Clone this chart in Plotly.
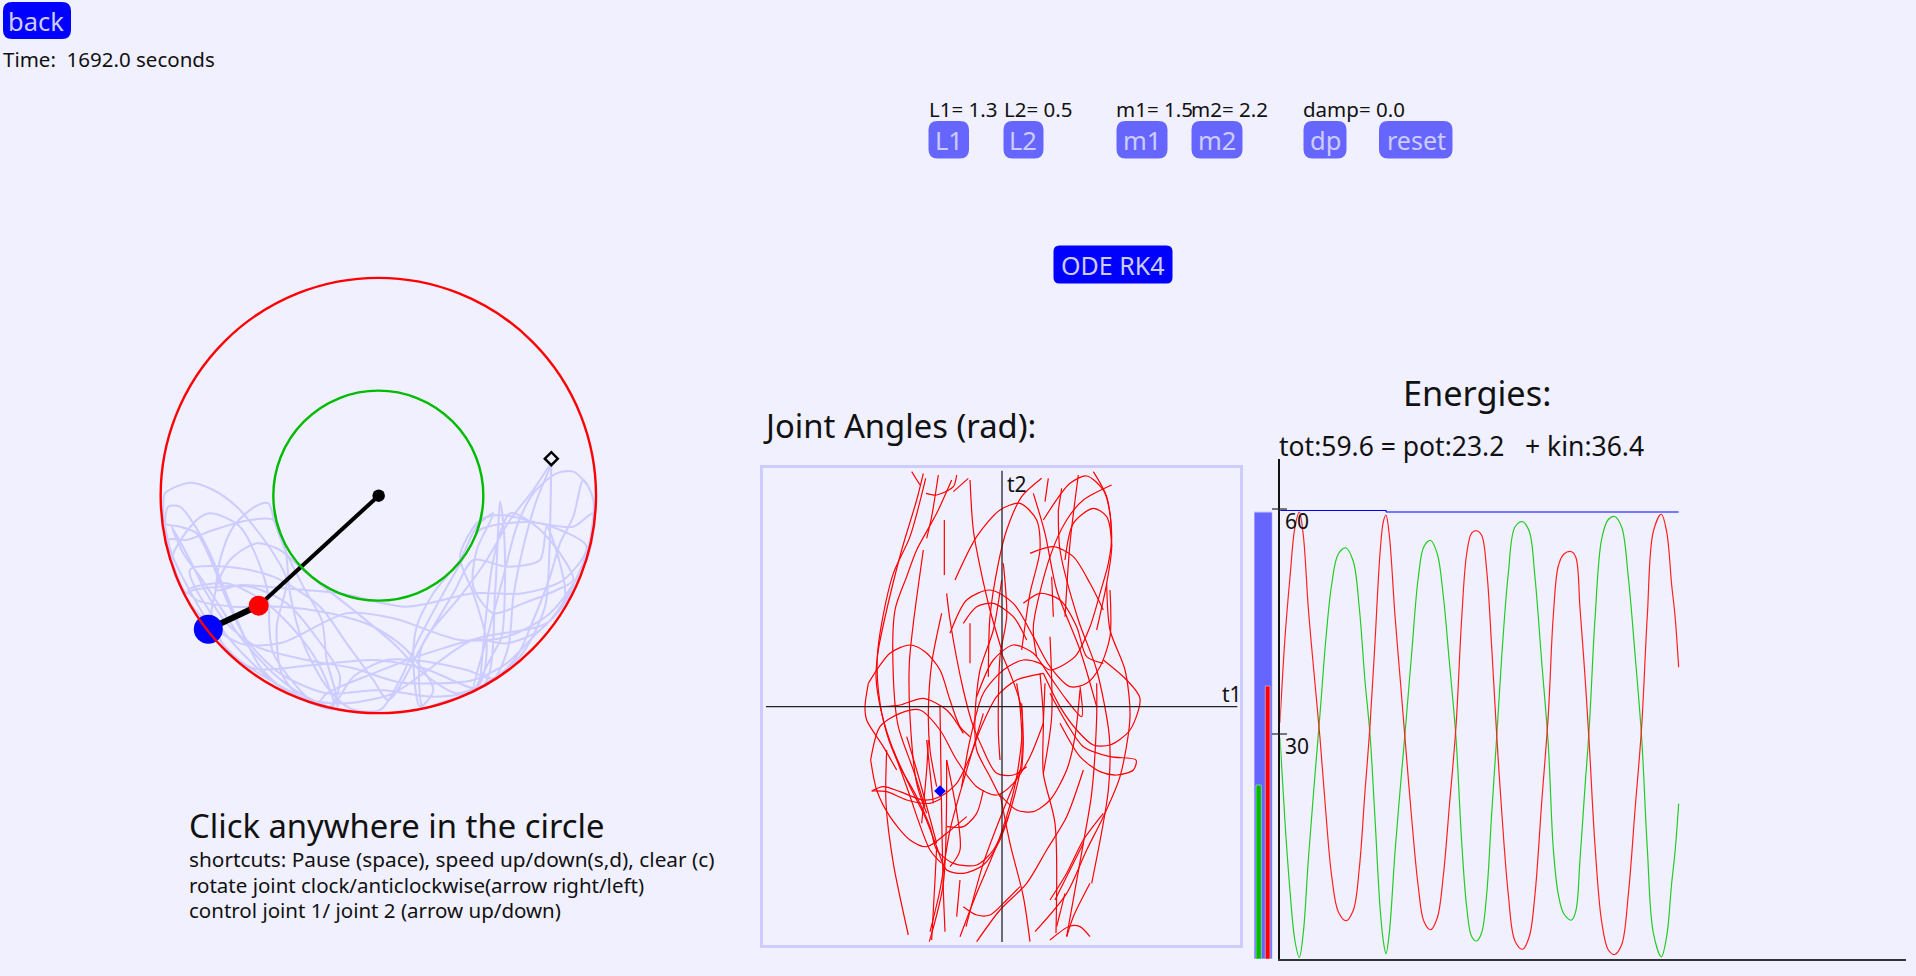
import plotly.graph_objects as go

BG = '#f0f0ff'
FONT = 'Noto Sans'
W, H = 1916, 976

# Pendulum, read in screen units (1 unit = 1/3 px), y pointing down
pivot = (716, 707)
joint = (356, 1037)
tip = (205, 1108)
click = (1234, 596)
outer_r = 653
inner_r = 315

trace_path = [
    (1234, 610), (1232, 720), (1228, 880), (1215, 1040), (1140, 1190), (1020, 1280), (1000, 1285),
    (850, 1225), (700, 1200), (520, 1215), (340, 1225), (255, 1160), (165, 1020), (95, 880),
    (75, 790), (85, 740), (120, 740), (160, 790), (210, 880), (250, 980), (300, 1100), (360, 1220),
    (450, 1300), (590, 1345), (560, 1200), (545, 1080), (490, 980), (440, 880), (405, 790),
    (385, 730), (345, 740), (280, 800), (240, 900), (225, 1000), (215, 1060), (260, 1170),
    (390, 1260), (510, 1320), (620, 1330), (760, 1300), (850, 1240), (1000, 1140), (1100, 1150),
    (1200, 1110), (1275, 1020), (1340, 880), (1365, 750), (1345, 680), (1300, 635), (1250, 640),
    (1180, 700), (1130, 800), (1090, 950), (1050, 1100), (1000, 1290), (1060, 1180), (1085, 1130),
    (1095, 960), (1090, 790), (1080, 725), (1075, 800), (1065, 1000), (1035, 1270), (895, 1330),
    (850, 1345), (840, 1180), (860, 1130), (960, 1010), (1040, 900), (1110, 780), (1180, 690),
    (1234, 610), (1190, 720), (1150, 860), (1120, 1010), (1105, 1160), (1060, 1260), (975, 1300),
    (880, 1310), (720, 1290), (560, 1300), (420, 1240), (320, 1140), (260, 1020), (225, 930),
    (170, 820), (120, 800), (75, 790), (70, 730), (75, 700), (150, 668), (220, 690), (290, 740),
    (350, 810), (400, 880), (440, 960), (410, 1100), (425, 1240), (480, 1310), (570, 1340),
    (600, 1250), (520, 1120), (440, 1030), (330, 980), (160, 990), (140, 1000), (85, 840),
    (140, 840), (220, 810), (330, 780), (400, 780), (435, 860), (450, 1000), (490, 1150),
    (560, 1280), (630, 1345), (720, 1350), (780, 1260), (830, 1150), (910, 1000), (990, 860),
    (1020, 810), (1100, 790), (1200, 790), (1340, 860), (1270, 960), (1150, 1000), (1000, 1000),
    (800, 1040), (600, 1000), (430, 985), (300, 975), (230, 990), (270, 900), (350, 850), (420, 870),
    (500, 940), (640, 1050), (760, 1150), (850, 1240), (950, 1300), (1020, 1270), (1040, 1150),
    (1000, 1000), (960, 890), (1020, 780), (1090, 765), (1200, 790), (1300, 800), (1360, 760),
    (1340, 900), (1230, 1060), (1100, 1130), (960, 1140), (760, 1075), (620, 1060), (420, 1150),
    (300, 1150), (165, 1050), (95, 900), (170, 780), (210, 760), (300, 800), (380, 980), (400, 1180),
    (530, 1330), (560, 1300), (700, 1240), (860, 1180), (1030, 1130), (1220, 1090), (1275, 1010),
    (1220, 800), (1200, 900), (1100, 920), (1000, 900), (940, 1000), (850, 1150), (745, 1320),
    (700, 1260), (620, 1150), (540, 1040), (400, 950), (260, 920), (150, 930), (255, 1120),
    (420, 1280), (570, 1340), (640, 1250), (740, 1200), (860, 1205), (980, 1230), (1060, 1255),
    (1130, 1190), (1180, 1080), (1230, 950), (1260, 850), (1300, 770), (1330, 660), (1360, 720),
    (1350, 840), (1320, 950), (1260, 1050), (1180, 1130), (1100, 1210), (1000, 1260), (900, 1270),
    (770, 1265), (640, 1225), (500, 1200), (350, 1160), (260, 1090), (200, 1000), (150, 900),
    (95, 800), (130, 880), (180, 950), (240, 1040), (300, 1130), (400, 1240), (480, 1300),
    (580, 1340), (545, 1230), (480, 1130), (380, 1030), (260, 970), (145, 990), (170, 1020),
    (280, 1040), (420, 1040), (570, 1060), (700, 1100), (800, 1170), (880, 1290), (840, 1340),
    (820, 1210), (830, 1100), (880, 1000), (960, 900), (1010, 800), (1060, 760), (1010, 870),
    (1000, 980), (1060, 1060), (1150, 1030), (1250, 990), (1300, 960), (1260, 880), (1190, 800),
    (1110, 760), (1060, 900), (1040, 1050), (1020, 1270),
]

# Joint angles trace, pieces break where an angle wraps round the frame
joint_segments = [
    [(520, 70), (500, 150), (455, 300), (410, 480), (385, 600), (378, 680), (395, 790), (430, 900), (480, 1010), (525, 1100), (560, 1190), (590, 1260), (640, 1270), (700, 1245), (745, 1180), (790, 1050), (815, 930), (810, 770), (800, 700)],
    [(527, 85), (480, 260), (430, 370), (395, 520), (382, 620), (385, 720), (410, 850), (450, 950), (500, 1040), (540, 1130), (560, 1200), (610, 1240), (680, 1245), (730, 1200), (775, 1100)],
    [(485, 65), (510, 105)],
    [(565, 75), (545, 200), (530, 265)],
    [(605, 90), (560, 190), (500, 300), (470, 380), (435, 480), (430, 680), (445, 830), (490, 960), (525, 1070)],
    [(620, 75), (610, 110), (560, 135), (528, 130)],
    [(655, 85), (610, 125)],
    [(660, 90), (670, 240), (690, 350), (720, 480), (755, 600)],
    [(583, 210), (583, 375)],
    [(520, 300), (490, 520), (478, 640), (480, 800), (500, 1000), (530, 1090)],
    [(615, 390), (680, 260), (750, 180), (810, 160), (860, 210), (870, 300), (840, 430), (815, 600)],
    [(1030, 65), (1070, 140), (1085, 260), (1075, 340), (1050, 430), (1020, 530), (975, 620), (900, 660), (870, 640), (820, 630), (760, 660), (700, 730), (660, 870), (635, 1010)],
    [(1085, 105), (1000, 150), (950, 210), (900, 320), (850, 530), (860, 620)],
    [(880, 210), (960, 100), (1010, 78), (1060, 120), (1080, 190), (1085, 290)],
    [(945, 330), (970, 220), (1030, 175), (1070, 200), (1085, 290), (1070, 400), (1040, 540)],
    [(600, 550), (650, 450), (720, 420), (790, 460), (850, 560), (900, 650), (960, 710), (1010, 700), (1050, 650), (1080, 560), (1080, 420)],
    [(640, 520), (680, 470), (730, 460), (790, 500), (830, 570)],
    [(820, 460), (870, 430), (930, 450), (980, 530), (1010, 620), (1060, 640)],
    [(840, 310), (910, 290), (970, 320), (1020, 400), (1060, 480)],
    [(355, 700), (420, 610), (480, 585), (525, 605), (570, 660), (600, 750), (630, 830), (660, 860)],
    [(355, 700), (345, 770), (350, 810), (400, 890), (440, 960)],
    [(400, 770), (450, 765), (520, 745), (590, 780), (640, 850)],
    [(362, 930), (390, 830), (450, 790), (510, 780), (570, 840), (620, 930), (680, 1010), (740, 1035), (790, 1000), (840, 920), (880, 820)],
    [(880, 670), (930, 770), (980, 840), (1030, 885), (1080, 885), (1140, 840), (1170, 745), (1130, 690), (1060, 630)],
    [(900, 730), (950, 820), (1000, 890), (1080, 920), (1158, 930), (1150, 960), (1100, 975), (1050, 965), (990, 920), (930, 820)],
    [(362, 930), (380, 1020), (420, 1100), (480, 1170), (530, 1190), (590, 1150), (650, 1100)],
    [(365, 1023), (400, 1010), (450, 1025), (520, 1050), (570, 1040), (620, 1000), (660, 920), (690, 840), (740, 740), (800, 690), (880, 670)],
    [(365, 1023), (410, 1025), (470, 1050), (540, 1060), (575, 1045)],
    [(590, 1130), (640, 1130), (680, 1090), (700, 1020)],
    [(700, 900), (740, 970), (790, 975), (830, 950)],
    [(755, 1040), (800, 1080), (850, 1085), (900, 1050), (950, 960), (975, 860), (990, 720)],
    [(1020, 1460), (990, 1430), (960, 1428), (900, 1470)],
    [(680, 1475), (750, 1380), (830, 1300), (890, 1200), (950, 1100), (1000, 960)],
    [(640, 1370), (680, 1395), (720, 1395), (770, 1350), (810, 1310)],
    [(410, 900), (408, 1060), (430, 1240), (475, 1455)],
    [(540, 1445), (570, 1320), (600, 1140), (650, 960), (700, 790)],
    [(538, 1475), (580, 1300), (590, 930)],
    [(585, 1445), (580, 1320), (575, 1100), (570, 770)],
    [(630, 1460), (680, 1330), (750, 1160), (800, 980), (815, 780), (750, 600)],
    [(648, 1430), (700, 1240), (760, 1080), (810, 960)],
    [(840, 1475), (820, 1340), (780, 1180), (750, 1030)],
    [(855, 1445), (950, 1330), (1010, 1200), (1060, 1100), (1110, 980), (1140, 800), (1125, 660), (1080, 540), (1070, 400)],
    [(918, 1450), (915, 1120), (880, 970), (880, 800), (870, 670)],
    [(950, 1460), (1000, 1180), (1025, 1030), (1040, 800), (1040, 700)],
    [(1025, 1300), (1075, 1020), (1078, 860), (1040, 660), (985, 510), (930, 300), (925, 180)],
    [(920, 1430), (945, 1330)],
    [(985, 75), (960, 280), (945, 500)],
    [(895, 85), (885, 155)],
    [(875, 85), (815, 140), (770, 240), (745, 340), (720, 500), (715, 680)],
    [(850, 130), (885, 250), (920, 420), (990, 600), (1040, 770)],
    [(905, 380), (910, 500)],
    [(900, 560), (905, 800), (880, 970)],
    [(590, 430), (600, 510), (640, 720), (670, 830), (700, 900)],
    [(575, 490), (545, 640), (535, 790), (540, 900), (560, 1010)],
    [(660, 520), (660, 640)],
    [(755, 390), (730, 540), (690, 660), (675, 800), (680, 900), (720, 980), (750, 1040)],
    [(760, 340), (770, 500), (750, 620), (745, 840), (750, 930)],
    [(680, 740), (730, 630), (790, 585), (850, 610), (900, 680), (950, 750), (995, 800), (990, 710)],
    [(815, 760), (820, 880), (815, 960)],
    [(880, 820), (885, 700)],
    [(515, 1120), (530, 960), (535, 870)],
    [(590, 930), (630, 1200), (600, 1250)],
    [(560, 1190), (555, 1290), (545, 1470)],
    [(630, 1290), (620, 1400)],
    [(1020, 1300), (970, 1400), (950, 1460)],
    [(1000, 1180), (915, 1350)],
    [(1060, 1090), (1000, 1170), (950, 1270), (900, 1350)],
    [(925, 180), (935, 115)],
    [(430, 900), (470, 1010), (540, 1200), (575, 1240)],
    [(470, 860), (500, 960), (560, 1180)],
    [(530, 870), (550, 1060)],
]
joint_now = (570, 1023)
t_origin = (756, 770)

# Energies over time
energy_t = [2, 17, 32, 47, 60, 72, 87, 104, 122, 140, 157, 177, 200, 222, 240, 257, 272, 287, 302, 312, 320, 330, 347, 362,
            377, 397, 417, 434, 454, 474, 492, 510, 530, 547, 562, 577, 592, 607, 622, 637, 652, 667, 687, 707, 730, 750,
            767, 787, 807, 822, 837, 854, 877, 890, 902, 917, 930, 947, 967, 987, 1006, 1027, 1047, 1067, 1087, 1104,
            1122, 1146, 1162, 1177, 1187, 1198]
energy_kin = [31.5, 42.8, 50.9, 57.6, 59.6, 56.5, 46.8, 38.2, 29.5, 19.3, 11.1, 6.3, 5.1, 6.5, 12.1, 22.3, 31.0, 42.2, 54.0, 58.3, 59.2, 56.5, 45.8, 37.7,
              29.5, 18.8, 9.6, 5.0, 3.9, 5.5, 11.1, 20.3, 31.0, 45.3, 54.0, 56.8, 57.1, 56.5, 51.9, 41.7, 30.0, 19.8, 8.6, 2.4, 1.3, 3.0,
              8.6, 20.8, 32.6, 45.8, 52.4, 54.0, 54.3, 53.5, 46.8, 37.7, 28.5, 15.2, 5.0, 1.2, 0.6, 1.9, 8.6, 19.8, 31.0, 45.8,
              57.0, 59.3, 57.0, 49.9, 45.8, 38.9]
energy_pot = [29.5, 18.3, 9.1, 2.4, 0.2, 3.5, 13.2, 22.9, 32.6, 42.8, 49.9, 54.0, 54.8, 53.0, 46.8, 37.1, 30.0, 18.8, 7.0, 2.4, 0.7, 3.5, 14.2, 22.3,
              30.0, 40.7, 50.9, 55.0, 55.8, 54.0, 48.4, 39.7, 29.5, 15.7, 7.0, 3.0, 2.4, 3.5, 8.6, 19.3, 29.5, 40.2, 51.4, 57.6, 58.3, 57.0,
              50.9, 39.7, 28.5, 14.7, 8.6, 6.0, 5.2, 6.5, 13.2, 22.9, 31.0, 45.3, 56.0, 58.6, 59.0, 57.6, 50.9, 40.7, 29.5, 14.7,
              3.5, 0.3, 3.0, 10.1, 14.2, 20.7]
total_t = [0, 320, 321, 1198]
total_e = [59.8, 59.8, 59.6, 59.6]
bar_total, bar_pot, bar_kin = 59.6, 23.2, 36.4
energy_ticks = [30, 60]


def px(x):
    return x / W


def py(y):
    return 1 - y / H


def button(x0, x1, y0, y1, fill, r=9):
    path = (f'M {px(x0 + r)} {py(y0)} L {px(x1 - r)} {py(y0)} Q {px(x1)} {py(y0)} {px(x1)} {py(y0 + r)} '
            f'L {px(x1)} {py(y1 - r)} Q {px(x1)} {py(y1)} {px(x1 - r)} {py(y1)} '
            f'L {px(x0 + r)} {py(y1)} Q {px(x0)} {py(y1)} {px(x0)} {py(y1 - r)} '
            f'L {px(x0)} {py(y0 + r)} Q {px(x0)} {py(y0)} {px(x0 + r)} {py(y0)} Z')
    return dict(type='path', xref='paper', yref='paper', path=path, fillcolor=fill, line_width=0, layer='below')


def note(x, y, text, size, color='#111111', anchor='left'):
    return dict(x=px(x), y=py(y), xref='paper', yref='paper', text=text, showarrow=False, xanchor=anchor,
                yanchor='middle', align='left', font=dict(family=FONT, size=size, color=color))


fig = go.Figure()

# pendulum
fig.add_trace(go.Scatter(x=[p[0] for p in trace_path], y=[p[1] for p in trace_path], mode='lines',
                         line=dict(color='#ccccff', width=2, shape='spline', smoothing=0.8), xaxis='x', yaxis='y'))
fig.add_trace(go.Scatter(x=[pivot[0], joint[0]], y=[pivot[1], joint[1]], mode='lines',
                         line=dict(color='black', width=4), xaxis='x', yaxis='y'))
fig.add_trace(go.Scatter(x=[joint[0], tip[0]], y=[joint[1], tip[1]], mode='lines',
                         line=dict(color='black', width=6), xaxis='x', yaxis='y'))
fig.add_trace(go.Scatter(x=[pivot[0]], y=[pivot[1]], mode='markers', marker=dict(color='black', size=12.5), xaxis='x', yaxis='y'))
fig.add_trace(go.Scatter(x=[joint[0]], y=[joint[1]], mode='markers', marker=dict(color='#ff0000', size=20), xaxis='x', yaxis='y'))
fig.add_trace(go.Scatter(x=[tip[0]], y=[tip[1]], mode='markers', marker=dict(color='#0000ff', size=29), xaxis='x', yaxis='y'))
fig.add_trace(go.Scatter(x=[click[0]], y=[click[1]], mode='markers',
                         marker=dict(color=BG, size=10, symbol='diamond', line=dict(color='black', width=2.5)), xaxis='x', yaxis='y'))

# joint angles
joint_x, joint_y = [], []
for seg in joint_segments:
    joint_x += [p[0] for p in seg] + [None]
    joint_y += [p[1] for p in seg] + [None]
fig.add_trace(go.Scatter(x=joint_x, y=joint_y, mode='lines',
                         line=dict(color='#ff0000', width=1.2, shape='spline', smoothing=0.8), xaxis='x2', yaxis='y2'))
fig.add_trace(go.Scatter(x=[joint_now[0]], y=[joint_now[1]], mode='markers',
                         marker=dict(color='#0000ff', size=9, symbol='diamond'), xaxis='x2', yaxis='y2'))

# energies
fig.add_trace(go.Bar(x=[9.15], y=[bar_total], width=[18.3], marker=dict(color='#6666ff', line=dict(color='#ccccff', width=1)),
                     xaxis='x4', yaxis='y3'))
fig.add_trace(go.Bar(x=[4.65], y=[bar_pot], width=[5.3], marker_color='#00bb00', xaxis='x4', yaxis='y3'))
fig.add_trace(go.Bar(x=[13.65], y=[bar_kin], width=[4.7], marker_color='#ff0000', xaxis='x4', yaxis='y3'))
fig.add_trace(go.Scatter(x=energy_t, y=energy_pot, mode='lines', line=dict(color='#22cc22', width=1.2, shape='spline', smoothing=1),
                         xaxis='x3', yaxis='y3'))
fig.add_trace(go.Scatter(x=energy_t, y=energy_kin, mode='lines', line=dict(color='#ff2020', width=1.2, shape='spline', smoothing=1),
                         xaxis='x3', yaxis='y3'))
fig.add_trace(go.Scatter(x=total_t, y=total_e, mode='lines', line=dict(color='#0000ff', width=1.2), xaxis='x3', yaxis='y3'))

hidden = dict(visible=False, showgrid=False, zeroline=False)
shapes = [
    dict(type='circle', xref='x', yref='y', x0=715 - outer_r, x1=715 + outer_r, y0=706.5 - outer_r, y1=706.5 + outer_r,
         line=dict(color='#ff0000', width=2.4), layer='above'),
    dict(type='circle', xref='x', yref='y', x0=715 - inner_r, x1=715 + inner_r, y0=707 - inner_r, y1=707 + inner_r,
         line=dict(color='#00bb00', width=2.4), layer='above'),
    dict(type='line', xref='x2', yref='y2', x0=48, x1=1462, y0=t_origin[1], y1=t_origin[1], line=dict(color='#222222', width=1.3)),
    dict(type='line', xref='x2', yref='y2', x0=t_origin[0], x1=t_origin[0], y0=62, y1=1476, line=dict(color='#222222', width=1.3)),
]
for v in energy_ticks:
    shapes.append(dict(type='line', xref='paper', yref='y3', x0=px(1272), x1=px(1287), y0=v, y1=v, line=dict(color='#222222', width=1.2)))
shapes += [
    button(3, 71, 2, 39, '#0000ff'),
    button(928.5, 969, 121, 158.5, '#6666ff'),
    button(1003.5, 1043.5, 121, 158.5, '#6666ff'),
    button(1116.5, 1167.5, 121, 158.5, '#6666ff'),
    button(1191.5, 1242.5, 121, 158.5, '#6666ff'),
    button(1303.5, 1346.5, 121, 158.5, '#6666ff'),
    button(1379, 1452.5, 121, 158.5, '#6666ff'),
    button(1053.5, 1172.5, 245.5, 283.5, '#0000ff', r=6),
]

notes = [
    note(36, 21, 'back', 25.5, '#ccccff', 'center'),
    note(1, 59, 'Time:  1692.0 seconds', 20.5),
    note(927, 109, 'L1= 1.3', 20.5),
    note(1002, 109, 'L2= 0.5', 20.5),
    note(1114, 109, 'm1= 1.5', 20.5),
    note(1189, 109, 'm2= 2.2', 20.5),
    note(1301, 109, 'damp= 0.0', 20.5),
    note(948.5, 140, 'L1', 25.5, '#ccccff', 'center'),
    note(1023.5, 140, 'L2', 25.5, '#ccccff', 'center'),
    note(1142, 140, 'm1', 25.5, '#ccccff', 'center'),
    note(1217, 140, 'm2', 25.5, '#ccccff', 'center'),
    note(1325, 140, 'dp', 25.5, '#ccccff', 'center'),
    note(1416, 140, 'reset', 25, '#ccccff', 'center'),
    note(1113, 265, 'ODE RK4', 25, '#ccccff', 'center'),
    note(187, 825, 'Click anywhere in the circle', 32.8),
    note(187, 859, 'shortcuts: Pause (space), speed up/down(s,d), clear (c)', 20.8),
    note(187, 885, 'rotate joint clock/anticlockwise(arrow right/left)', 20.5),
    note(187, 910, 'control joint 1/ joint 2 (arrow up/down)', 20.5),
    note(761, 425, 'Joint Angles (rad):', 32.8),
    note(1477, 392, 'Energies:', 34.3, '#111111', 'center'),
    note(1277, 446, 'tot:59.6 = pot:23.2   + kin:36.4', 26.5),
    note(1232, 694, 't1', 21, '#111111', 'center'),
    note(1017, 484, 't2', 21, '#111111', 'center'),
    note(1283, 521, '60', 21),
    note(1283, 746, '30', 21),
]

fig.update_layout(
    width=W, height=H, margin=dict(l=0, r=0, t=0, b=0, pad=0), autosize=False,
    paper_bgcolor=BG, plot_bgcolor='rgba(0,0,0,0)', showlegend=False, barmode='overlay', hovermode=False,
    xaxis=dict(domain=[px(140), px(620)], range=[0, 1440], **hidden),
    yaxis=dict(domain=[py(730), py(260)], range=[1410, 0], **hidden),
    xaxis2=dict(domain=[px(763), px(1240)], range=[39, 1470], anchor='y2', showgrid=False, zeroline=False, showticklabels=False,
                ticks='', showline=True, mirror=True, linecolor='#ccccff', linewidth=3),
    yaxis2=dict(domain=[py(945), py(467.5)], range=[1485, 52.5], anchor='x2', showgrid=False, zeroline=False, showticklabels=False,
                ticks='', showline=True, mirror=True, linecolor='#ccccff', linewidth=3),
    xaxis3=dict(domain=[px(1280.3), px(1906)], range=[3, 1880], anchor='y3', showgrid=False, zeroline=False, showticklabels=False,
                ticks='', showline=True, linecolor='#333333', linewidth=1.5),
    yaxis3=dict(domain=[py(959), py(459)], range=[0, 66.67], anchor='x3', showgrid=False, zeroline=False, showticklabels=False,
                ticks='', showline=True, linecolor='#111111', linewidth=1.5),
    xaxis4=dict(domain=[px(1254), px(1272.3)], range=[0, 18.3], anchor='y3', **hidden),
    shapes=shapes,
    annotations=notes,
)

fig.write_html('out.html', config=dict(displayModeBar=False),
               post_script="document.body.style.margin='0';document.body.style.background='" + BG + "';document.body.style.overflow='hidden';")
